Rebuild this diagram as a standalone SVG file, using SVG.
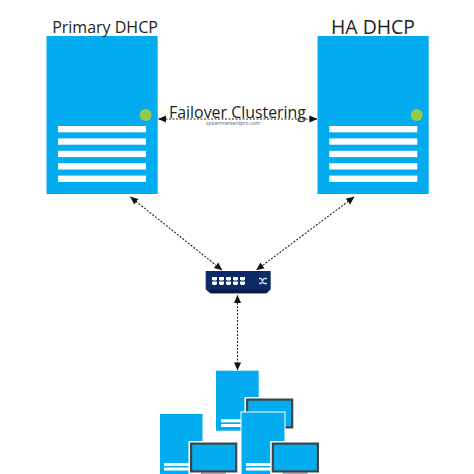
<svg xmlns="http://www.w3.org/2000/svg" width="474" height="474" viewBox="0 0 474 474">
<style>
.blue{fill:#03acee}
.w{fill:#fff}
.dot{fill:#95cb4a}
.frame{fill:#3f4347}
.stand{fill:#a9a9a9}
.lbl{font-family:"Open Sans","Noto Sans",sans-serif;fill:#222}
.link{fill:none;stroke:#222;stroke-width:1.1;stroke-dasharray:2 1.5;marker-start:url(#ah);marker-end:url(#ah)}
</style>
<defs>
<marker id="ah" viewBox="0 0 10 10" refX="9.500" refY="5" markerWidth="8" markerHeight="8" markerUnits="userSpaceOnUse" orient="auto-start-reverse"><path d="M0 0.500L10 5L0 9.500Z" fill="#111"/></marker>
<g id="bars"><rect width="88" height="6.300" y="0" class="w"/><rect width="88" height="6.300" y="12.400" class="w"/><rect width="88" height="6.300" y="24.800" class="w"/><rect width="88" height="6.300" y="37.200" class="w"/><rect width="88" height="6.300" y="49.600" class="w"/></g>
<g id="mon"><rect x="-1.500" y="-1.500" width="50.500" height="33" class="w"/><rect x="11" y="29.700" width="25" height="4" class="stand"/><rect width="47.300" height="30" class="frame"/><rect x="2.200" y="2.200" width="42.900" height="25.600" class="blue"/></g>
<path id="port" d="M0 0H5V2.200L4 3.500H1L0 2.200Z" class="w"/>
</defs>
<rect width="474" height="474" fill="#fff"/>
<g id="primary-dhcp">
<rect x="46.500" y="36" width="111.200" height="158" class="blue"/>
<circle cx="145.700" cy="115" r="6" class="dot"/>
<use href="#bars" x="58" y="126"/>
<text x="105" y="33" text-anchor="middle" font-size="16" class="lbl">Primary DHCP</text>
</g>
<g id="ha-dhcp">
<rect x="317.500" y="36" width="111.200" height="158" class="blue"/>
<circle cx="416.700" cy="115" r="6" class="dot"/>
<use href="#bars" x="329.300" y="126"/>
<text x="373" y="34" text-anchor="middle" font-size="19.400" class="lbl">HA DHCP</text>
</g>
<g id="connectors">
<path class="link" d="M158.500 119H317"/>
<path class="link" d="M130.500 197L222 270"/>
<path class="link" d="M354 197L256.500 270"/>
<path class="link" d="M237.500 295.500V370"/>
</g>
<g id="failover-label">
<text x="237.500" y="118" text-anchor="middle" font-size="16.500" textLength="137" lengthAdjust="spacingAndGlyphs" class="lbl">Failover Clustering</text>
<text x="233" y="124.500" text-anchor="middle" font-size="5" class="lbl" fill-opacity="0.8">systemcenterdpro.com</text>
</g>
<g id="switch">
<path d="M205.700 271H270.700V289.300L267 293.300H210L205.700 289.300Z" fill="#0d2a66"/>
<path d="M209 289.500H267.500L265.500 293.300H211Z" fill="#061a45"/>
<use href="#port" x="212" y="277"/><use href="#port" x="219" y="277"/><use href="#port" x="226" y="277"/><use href="#port" x="233" y="277"/><use href="#port" x="240" y="277"/>
<use href="#port" x="212" y="281.500"/><use href="#port" x="219" y="281.500"/><use href="#port" x="226" y="281.500"/><use href="#port" x="233" y="281.500"/><use href="#port" x="240" y="281.500"/>
<path d="M259 278.500H261L264 283.500H267M259 283.500H261L264 278.500H267" stroke="#d5dcec" stroke-width="1.300" fill="none"/>
</g>
<g id="client-back">
<rect x="216" y="370.700" width="42.700" height="60" class="blue"/>
<rect x="221" y="419.300" width="26" height="3" class="w"/><rect x="221" y="424" width="26" height="3" class="w"/>
<use href="#mon" x="246" y="398.500"/>
</g>
<g id="client-left">
<rect x="160" y="414" width="42.500" height="60" class="blue"/>
<rect x="164" y="463" width="27" height="3" class="w"/><rect x="164" y="467.500" width="27" height="3" class="w"/>
<use href="#mon" x="190" y="442.500"/>
</g>
<g id="client-right">
<rect x="240.500" y="411.500" width="45" height="63" class="w"/>
<rect x="241.500" y="412.500" width="43" height="62" class="blue"/>
<rect x="246" y="463" width="27" height="3" class="w"/><rect x="246" y="467.500" width="27" height="3" class="w"/>
<use href="#mon" x="271.700" y="442.500"/>
</g>
</svg>
